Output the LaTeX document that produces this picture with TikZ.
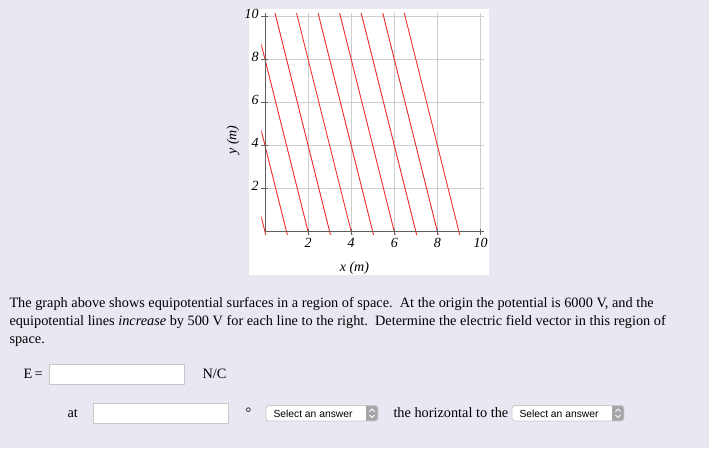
\documentclass[tikz,border=0pt]{standalone}
\usepackage{fontspec}
\setmainfont{Liberation Serif}
\newfontfamily\uifont{Liberation Sans}
\usetikzlibrary{positioning}
\definecolor{pagebg}{RGB}{233,231,242}
\definecolor{eqred}{RGB}{240,45,45}
\definecolor{gridgray}{RGB}{205,205,205}
\definecolor{axisgray}{RGB}{95,95,95}
\definecolor{boxborder}{RGB}{200,200,200}
\definecolor{selgray}{RGB}{165,165,170}
\tikzset{
  bodytext/.style={anchor=base west, inner sep=0pt, font=\fontsize{14.3}{17}\selectfont},
  ticklabel/.style={inner sep=0pt, font=\fontsize{14}{16}\selectfont\itshape},
  inputbox/.style={draw=boxborder, fill=white, line width=1pt, inner sep=0pt},
  seltext/.style={anchor=base west, inner sep=0pt, font=\uifont\fontsize{10.3}{12}\selectfont}
}

\begin{document}
\begin{tikzpicture}[x=1pt, y=-1pt, line width=1pt]
  % Page
  \useasboundingbox (0,0) rectangle (709,448);
  \fill[pagebg] (0,0) rectangle (709,448);
  \fill[white] (249,9) rectangle (489,275);

  % Graph
  \begin{scope}[shift={(265,231.7)}, x=21.55pt, y=21.55pt]
    % grid
    \foreach \v in {2,4,...,10} {
      \draw[gridgray] (\v,0) -- (\v,10.15);
      \draw[gridgray] (0,\v) -- (10.15,\v);
    }

    % equipotential lines
    \begin{scope}
      \clip (-0.17,-0.3) rectangle (10.5,10.15);
      \foreach \k in {0,...,9} {
        \draw[eqred, line width=0.9pt] (\k+0.0375,-0.15) -- (\k-2.5375,10.15);
      }
    \end{scope}

    % Axes
    \draw[axisgray] (0,0) -- (10.15,0);
    \draw[axisgray] (0,0) -- (0,10.15);
    \foreach \v in {2,4,...,10} {
      \draw[axisgray] (\v,0) ++(0,3pt) -- ++(0,-6pt);
      \draw[axisgray] (0,\v) ++(-4pt,0) -- ++(7pt,0);
      \node[ticklabel, anchor=base] (xt\v) at ([yshift=-15.5pt]\v,0) {\v};
      \node[ticklabel, anchor=mid east] (yt\v) at ([xshift=-6pt]0,\v) {\v};
    }
    \node[ticklabel, anchor=base] (xlab) at ([yshift=-40pt]4.15,0) {x (m)};
    \node[ticklabel, rotate=90] (ylab) at ([xshift=-32pt]0,4.25) {y (m)};
  \end{scope}

  % Question text
  \node[bodytext] (txtA) at (9,307.5) {The graph above shows equipotential surfaces in a region of space.\ \ At the origin the potential is 6000 V, and the};
  \node[bodytext] (txtB) at (9,325.5) {equipotential lines \textit{increase} by 500 V for each line to the right.\ \ Determine the electric field vector in this region of};
  \node[bodytext] (txtC) at (9,343.5) {space.};

  % Answer row 1
  \node[bodytext] (elab) at (23,378.5) {E\,=};
  \node[inputbox, minimum width=135pt, minimum height=20pt] (ebox) at (116.5,374) {};
  \node[bodytext] (units) at (202,378.5) {N/C};

  % Answer row 2
  \node[bodytext] (atlab) at (67,417.5) {at};
  \node[inputbox, minimum width=135pt, minimum height=20pt] (abox) at (161,413) {};
  \node[bodytext] (deg) at (245,417.5) {°};
  \node[bodytext] (horiz) at (393,417.5) {the horizontal to the};

  % Select menus
  \foreach \dx/\nm in {266/selA, 512/selB} {
    \begin{scope}
      \clip[rounded corners=3pt] (\dx,405.5) rectangle (\dx+112,421);
      \fill[white] (\dx,405.5) rectangle (\dx+112,421);
      \fill[selgray] (\dx+100,405.5) rectangle (\dx+112,421);
    \end{scope}
    \draw[boxborder, line width=0.8pt, rounded corners=3pt] (\dx,405.5) rectangle (\dx+112,421);
    \draw[white, line width=0.8pt] (\dx+103.5,411.5) -- (\dx+106,409) -- (\dx+108.5,411.5);
    \draw[white, line width=0.8pt] (\dx+103.5,415) -- (\dx+106,417.5) -- (\dx+108.5,415);
    \node[seltext] (\nm) at (\dx+7,417) {Select an answer};
  }
\end{tikzpicture}
\end{document}
